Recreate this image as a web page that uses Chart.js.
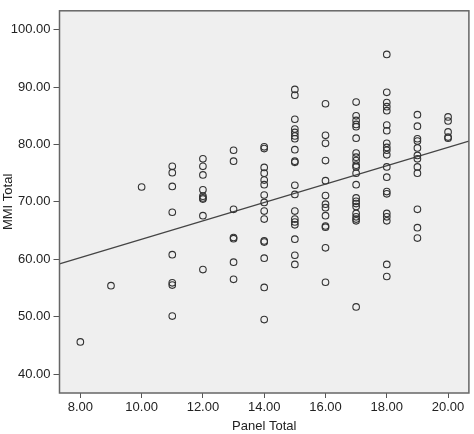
<!DOCTYPE html>
<html>
<head>
<meta charset="utf-8">
<script src="https://cdn.jsdelivr.net/npm/chart.js@4/dist/chart.umd.min.js"></script>
<style>
  html, body { margin: 0; padding: 0; background: #fff; }
  #wrap { width: 474px; height: 434px; }
</style>
</head>
<body>
<div id="wrap"><canvas id="mmiChart" width="474" height="434"></canvas></div>
<script>
const ctx = document.getElementById('mmiChart').getContext('2d');

// Panel Total scores (x) and the MMI Total values seen at each score
const panelScores = [8, 9, 10, 11, 12, 13, 14, 15, 16, 17, 18, 19, 20];
const mmiByPanel = [
    [45.6],
    [55.4],
    [72.6],
    [76.2, 75.1, 72.7, 68.2, 60.8, 55.9, 55.5, 50.1],
    [77.5, 76.2, 74.7, 72.1, 71.0, 70.7, 70.5, 67.6, 58.2],
    [79.0, 77.1, 68.7, 63.8, 63.6, 59.5, 56.5],
    [79.6, 79.3, 76.0, 75.0, 73.8, 73.0, 71.2, 69.9, 68.4, 67.0, 63.2, 63.0, 60.2, 55.1, 49.5],
    [89.6, 88.6, 84.4, 82.7, 82.1, 81.5, 81.0, 79.1, 77.1, 76.9, 72.9, 71.3, 68.4, 67.0, 66.5, 66.0, 63.5, 60.7, 59.1],
    [87.1, 81.6, 80.2, 77.2, 73.7, 71.1, 69.6, 69.0, 67.6, 65.8, 65.6, 62.0, 56.0],
    [87.4, 85.0, 84.2, 83.5, 83.1, 81.1, 78.5, 77.8, 77.2, 76.4, 76.1, 75.0, 73.0, 70.7, 70.1, 69.7, 69.2, 68.0, 67.4, 67.0, 66.7, 51.7],
    [95.7, 89.1, 87.3, 86.6, 85.9, 83.4, 82.4, 80.2, 79.5, 79.0, 78.2, 76.1, 74.3, 71.8, 71.4, 68.0, 67.4, 66.7, 59.1, 57.0],
    [85.2, 83.2, 81.0, 80.6, 79.4, 78.1, 77.5, 76.1, 75.0, 68.7, 65.5, 63.7],
    [84.8, 84.1, 82.2, 81.3, 81.1]
];

// fit line (ends at the plot edges)
const fitX = [7.32, 20.68];
const fitY = [59.2, 80.6];

const xTicks = [8, 10, 12, 14, 16, 18, 20];
const yTicks = [40, 50, 60, 70, 80, 90, 100];

const pontos = [];
panelScores.forEach((p, i) => {
    mmiByPanel[i].forEach(v => pontos.push({ x: p, y: v }));
});

const linha = fitX.map((x, i) => ({ x: x, y: fitY[i] }));

const fundoPlot = {
    id: 'fundoPlot',
    beforeDraw(chart) {
        const a = chart.chartArea;
        const c = chart.ctx;
        c.save();
        c.fillStyle = '#efefef';
        c.fillRect(a.left, a.top, a.right - a.left, a.bottom - a.top);
        c.restore();
    },
    afterDraw(chart) {
        const a = chart.chartArea;
        const c = chart.ctx;
        c.save();
        c.strokeStyle = '#666';
        c.lineWidth = 1.5;
        c.strokeRect(a.left, a.top, a.right - a.left, a.bottom - a.top);
        c.restore();
    }
};

Chart.defaults.font.family = '"Liberation Sans", Arial, sans-serif';
Chart.defaults.font.size = 13;
Chart.defaults.color = '#222';

new Chart(ctx, {
    type: 'scatter',
    data: {
        datasets: [
            {
                label: 'MMI',
                data: pontos,
                pointRadius: 3.3,
                pointBorderWidth: 1.1,
                pointBorderColor: '#333',
                pointBackgroundColor: 'rgba(0,0,0,0)'
            },
            {
                type: 'line',
                label: 'Fit',
                data: linha,
                borderColor: '#444',
                borderWidth: 1.2,
                pointRadius: 0,
                fill: false
            }
        ]
    },
    options: {
        responsive: false,
        animation: false,
        layout: { padding: { top: 4, right: 4, left: 0, bottom: 0 } },
        plugins: {
            legend: { display: false },
            tooltip: { enabled: false }
        },
        scales: {
            x: {
                type: 'linear',
                min: 7.32,
                max: 20.68,
                afterBuildTicks: s => { s.ticks = xTicks.map(v => ({ value: v })); },
                afterFit: s => { s.height = 41; },
                grid: { drawOnChartArea: false, drawTicks: true, tickLength: 5, color: '#555' },
                border: { display: false },
                ticks: { padding: 2, maxRotation: 0, callback: v => v.toFixed(2) },
                title: { display: true, text: 'Panel Total', padding: 0 }
            },
            y: {
                type: 'linear',
                min: 36.7,
                max: 103.3,
                afterBuildTicks: s => { s.ticks = yTicks.map(v => ({ value: v })); },
                afterFit: s => { s.width = 59.5; },
                grid: { drawOnChartArea: false, drawTicks: true, tickLength: 6, color: '#555' },
                border: { display: false },
                ticks: { padding: 3, callback: v => v.toFixed(2) },
                title: { display: true, text: 'MMI Total', padding: { top: 1, bottom: 0 } }
            }
        }
    },
    plugins: [fundoPlot]
});
</script>
</body>
</html>
